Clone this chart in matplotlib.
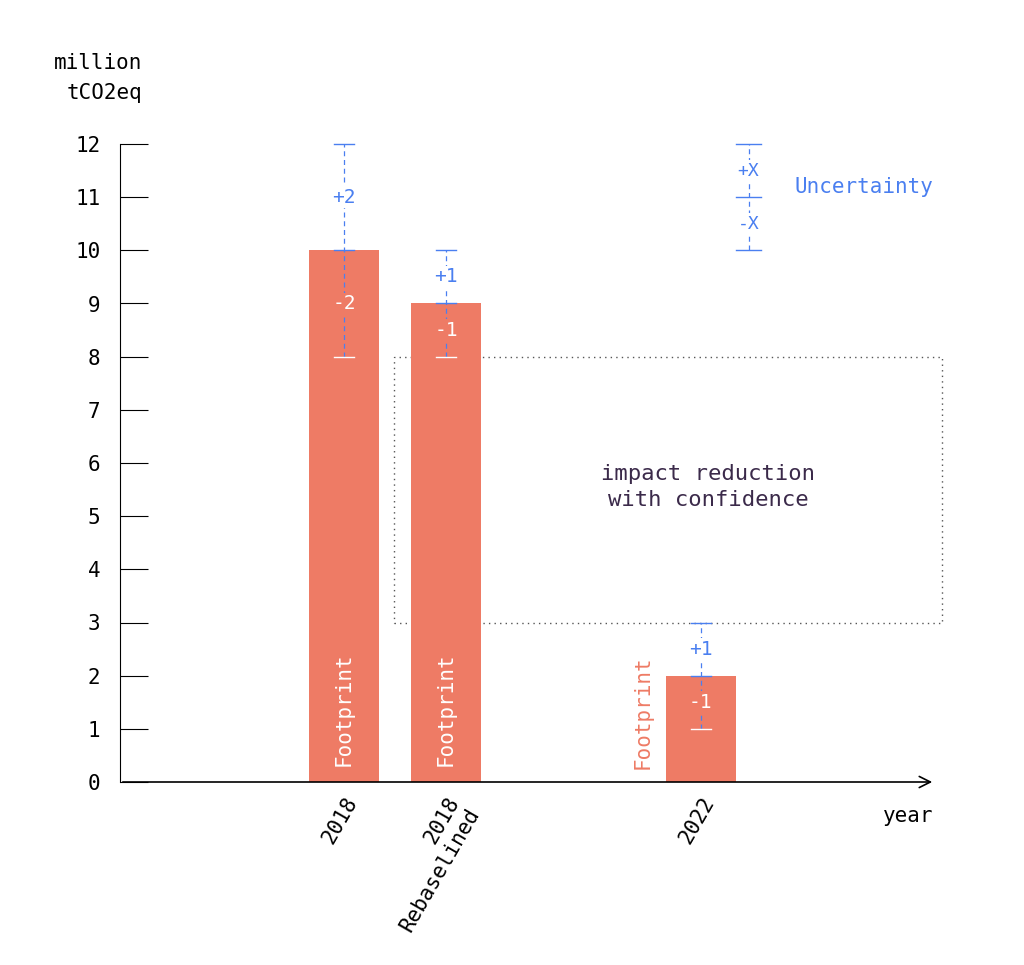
import matplotlib
matplotlib.use("Agg")
import matplotlib.pyplot as plt
from matplotlib.patches import Rectangle

categories = ["2018", "2018\nRebaselined", "2022"]
values = [10, 9, 2]
unc = [2, 1, 1]
positions = [2.2, 3.2, 5.7]
yticks = list(range(0, 13))

BAR = "#ee7b65"
BLUE = "#4a7ff0"
PURPLE = "#3b2a4a"
plt.rcParams['font.family'] = ['DejaVu Sans Mono']
plt.rcParams['font.size'] = 14

fig = plt.figure(figsize=(10.24, 9.65), dpi=100)
ax = fig.add_axes([120/1024, 183/965, 815/1024, 638/965])
ax.set_xlim(0, 8)
ax.set_ylim(0, 12)
for s in ["top", "right"]:
    ax.spines[s].set_visible(False)
ax.spines["bottom"].set_visible(False)
ax.annotate("", xy=(8.0, 0), xytext=(0, 0), xycoords="data",
            arrowprops=dict(arrowstyle="->", color="black", lw=1.2, mutation_scale=20),
            annotation_clip=False)
ax.set_yticks(yticks)
ax.tick_params(axis="y", direction="in", length=20, pad=14, labelsize=15)
ax.set_xticks(positions)
ax.set_xticklabels(categories, rotation=60, ha="right", rotation_mode="anchor", fontsize=15)
ax.tick_params(axis="x", length=0, pad=8)

ax.bar(positions, values, width=0.69, color=BAR, zorder=2)

def errbar(x, y, u, lab_top, lab_bot, col_bot, capw=0.1):
    ax.plot([x, x], [y - u, y + u], ls=(0, (4, 3)), color=BLUE, lw=0.9, zorder=3, clip_on=False)
    for yy, c in [(y - u, col_bot), (y, BLUE), (y + u, BLUE)]:
        ax.plot([x - capw, x + capw], [yy, yy], color=c, lw=1.0, zorder=3, clip_on=False)
    ax.text(x, y + u / 2, lab_top, color=BLUE, ha="center", va="center", fontsize=14,
            bbox=dict(fc="white", ec="none", pad=1), zorder=4)
    ax.text(x, y - u / 2, lab_bot, color=col_bot, ha="center", va="center", fontsize=14,
            bbox=dict(fc=BAR if col_bot == "white" else "white", ec="none", pad=1), zorder=4)

errbar(positions[0], values[0], unc[0], "+2", "-2", "white")
errbar(positions[1], values[1], unc[1], "+1", "-1", "white")
errbar(positions[2], values[2], unc[2], "+1", "-1", "white")

# Footprint labels
ax.text(positions[0], 0.3, "Footprint", rotation=90, color="white", ha="center", va="bottom", fontsize=15, zorder=4)
ax.text(positions[1], 0.3, "Footprint", rotation=90, color="white", ha="center", va="bottom", fontsize=15, zorder=4)
ax.text(positions[2] - 0.57, 0.25, "Footprint", rotation=90, color=BAR, ha="center", va="bottom", fontsize=15, zorder=4)

# Legend uncertainty
lx = 6.17
ax.plot([lx, lx], [10, 12], ls=(0, (4, 3)), color=BLUE, lw=0.9, clip_on=False)
for yy in [10, 11, 12]:
    ax.plot([lx - 0.12, lx + 0.12], [yy, yy], color=BLUE, lw=1.0, clip_on=False)
ax.text(lx, 11.5, "+X", color=BLUE, ha="center", va="center", fontsize=13, bbox=dict(fc="white", ec="none", pad=1))
ax.text(lx, 10.5, "-X", color=BLUE, ha="center", va="center", fontsize=13, bbox=dict(fc="white", ec="none", pad=1))
ax.text(6.62, 11.2, "Uncertainty", color=BLUE, ha="left", va="center", fontsize=15)

# reduction box
ax.add_patch(Rectangle((2.69, 3), 8.07 - 2.69, 5, fill=False, ls=(0, (1, 3)), ec="#555555", lw=1.0, clip_on=False, zorder=1))
ax.text(5.77, 5.55, "impact reduction\nwith confidence", color=PURPLE, ha="center", va="center", fontsize=16, linespacing=1.4)

fig.text(142/1024, 1 - 78/965, "million\ntCO2eq", ha="right", va="center", fontsize=15, linespacing=1.6)
fig.text(908/1024, 1 - 816/965, "year", ha="center", va="center", fontsize=15)

fig.savefig("out.png", dpi=100)
